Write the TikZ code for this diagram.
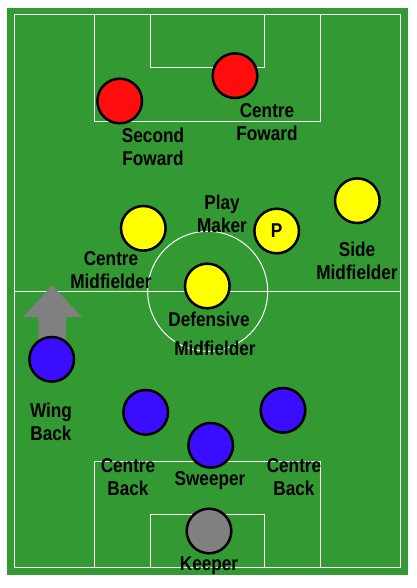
\documentclass[tikz,border=0pt]{standalone}
\usepackage{fontspec}
\setmainfont{Liberation Sans}[FakeStretch=0.86]
\definecolor{pitch}{RGB}{51,153,51}
\definecolor{fwd}{RGB}{255,13,13}
\definecolor{mid}{RGB}{255,255,0}
\definecolor{def}{RGB}{58,13,255}
\definecolor{gk}{RGB}{128,128,128}
\begin{document}
\begin{tikzpicture}[x=1pt,y=-1pt,
  fieldline/.style={draw=white,line width=1pt},
  player/.style={circle,draw=black,line width=2.5pt,minimum size=44.6pt,inner sep=0pt,font=\fontsize{20}{20}\selectfont\bfseries},
  lab/.style={align=center,inner sep=0pt,font=\fontsize{20}{23}\selectfont\bfseries}]
\useasboundingbox (0,0) rectangle (416,588);
\fill[white] (0,0) rectangle (416,588);
\fill[pitch] (7,8) rectangle (408,575);
% field lines
\draw[fieldline] (14,15) rectangle (400.7,567.3);
\draw[fieldline] (94.3,15) rectangle (320.7,121.3);
\draw[fieldline] (150.3,15) rectangle (264.3,67.7);
\draw[fieldline] (14,291.3) -- (400.7,291.3);
\draw[fieldline] (207.7,291.3) circle (60);
\draw[fieldline] (94.3,567.3) rectangle (320.7,461.3);
\draw[fieldline] (150.7,567.3) rectangle (264.3,514.7);
% arrow
\fill[gk] (38.3,345) -- (38.3,317) -- (23,317) -- (52.2,285.3) -- (82,317) -- (66,317) -- (66,345) -- cycle;
% players
\node[player,fill=fwd] (sf) at (119.7,101) {};
\node[player,fill=fwd] (cf) at (235,75.7) {};
\node[player,fill=mid] (cm) at (143.3,228.3) {};
\node[player,fill=mid] (pm) at (276.7,231) {P};
\node[player,fill=mid] (sm) at (357.3,200.7) {};
\node[player,fill=mid] (dm) at (207.3,286) {};
\node[player,fill=def] (wb) at (51.7,359.3) {};
\node[player,fill=def] (cbl) at (145.7,412.3) {};
\node[player,fill=def] (cbr) at (283,410.3) {};
\node[player,fill=def] (sw) at (210.7,445.3) {};
\node[player,fill=gk] (kp) at (209,531) {};
% labels
\node[lab] (lsf) at (153,146.5) {Second\\Foward};
\node[lab] (lcf) at (267,122) {Centre\\Foward};
\node[lab] (lpm) at (222,213.5) {Play\\Maker};
\node[lab] (lcm) at (111,270) {Centre\\Midfielder};
\node[lab] (lsm) at (357,260.5) {Side\\Midfielder};
\node[lab,font=\fontsize{20}{29}\selectfont\bfseries] (ldm) at (209,333.5) {Defensive\\\hspace*{12pt}Midfielder};
\node[lab] (lwb) at (51,422) {Wing\\Back};
\node[lab] (lcbl) at (128,477) {Centre\\Back};
\node[lab] (lsw) at (210,481) {Sweeper};
\node[lab] (lcbr) at (294,477) {Centre\\Back};
\node[lab] (lkp) at (209,565.5) {Keeper};
\end{tikzpicture}
\end{document}
